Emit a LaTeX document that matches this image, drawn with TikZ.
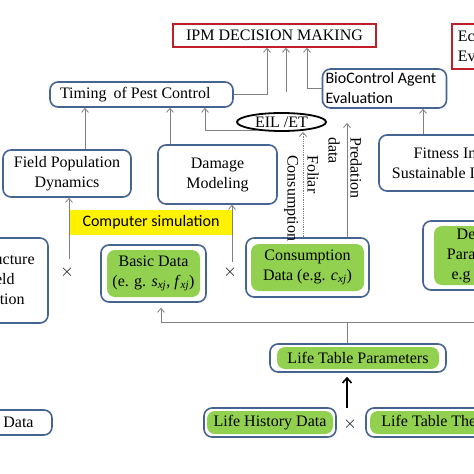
\documentclass[tikz,border=0pt]{standalone}
\usepackage{fontspec}
\setmainfont{Liberation Serif}
\newfontfamily\calibri{Carlito}
\usetikzlibrary{arrows.meta,shapes.geometric}
\definecolor{bordblue}{RGB}{70,100,145}
\definecolor{lgreen}{RGB}{146,208,80}
\definecolor{redb}{RGB}{192,30,40}
\definecolor{linegray}{RGB}{128,128,128}
\tikzset{
  txt/.style={font=\fontsize{16}{20}\selectfont},
  bluebox/.style={txt, draw=bordblue, line width=1.6pt, rounded corners=8pt, fill=white,
    inner sep=0pt, align=center},
  gbox/.style 2 args={bluebox, path picture={\fill[lgreen]
    ([xshift=#1pt,yshift=-#2pt]path picture bounding box.north west) rectangle
    ([xshift=-#1pt,yshift=#2pt]path picture bounding box.south east);}},
  redbox/.style={txt, draw=redb, line width=1.5pt, fill=white, inner sep=0pt},
  conn/.style={draw=linegray, line width=0.8pt},
  arr/.style={conn, -{Straight Barb[length=4pt,width=7pt]}},
  dotarr/.style={arr, densely dotted},
  barr/.style={draw=black, line width=1.6pt, -{Straight Barb[length=5pt,width=9pt]}},
  rlabel/.style={txt, rotate=-90, anchor=west, align=left, inner sep=0pt},
  timesx/.style={txt, inner sep=0pt},
}
\begin{document}
\begin{tikzpicture}[x=1pt,y=-1pt]
\useasboundingbox (0,0) rectangle (474,474);
\clip (0,0) rectangle (474,474);
\fill[white] (0,0) rectangle (474,474);

% top decision boxes
\node[redbox, minimum width=203pt, minimum height=23pt] (ipm) at (274.5,35.5) {IPM DECISION MAKING};
\node[redbox, anchor=north west, minimum height=45pt, text width=90pt, align=flush left, inner xsep=6pt] (eco) at (451,23) {Economic\\Evaluation};

% second row
\node[bluebox, minimum height=25pt, text width=163pt, align=flush left, inner xsep=10pt] (timing) at (141.5,94.5) {Timing\hspace{7pt}of Pest Control};
\node[bluebox, minimum height=39pt, text width=118pt, align=flush left, inner xsep=3pt, font=\calibri\fontsize{16}{20}\selectfont] (bio) at (384.5,88.5) {BioControl Agent\\Evaluation};
\node[txt, ellipse, draw=black, line width=1.8pt, minimum width=89pt, minimum height=18pt, inner sep=0pt] (eil) at (281.5,122) {EIL /ET};

% third row
\node[bluebox, minimum width=128pt, minimum height=47pt] (fpd) at (67,173.5) {Field Population\\Dynamics};
\node[bluebox, minimum width=119pt, minimum height=59pt] (dmg) at (217.5,174.5) {Damage\\Modeling};
\node[bluebox, minimum width=132pt, minimum height=56pt] (fit) at (445,163) {Fitness In\\Sustainable IPM};

% simulation band
\node[fill=yellow, minimum width=162pt, minimum height=25pt, inner sep=0pt, font=\calibri\fontsize{16}{20}\selectfont] (csim) at (151,222.5) {Computer simulation};

% fourth row
\node[bluebox, minimum width=116pt, minimum height=85pt] (age) at (-10,280.5) {Age Structure\\in Field\\Population};
\node[gbox={6}{5}, minimum width=105pt, minimum height=57pt] (basic) at (153.5,273.5) {Basic Data\\(e. g. \textit{s}\textsubscript{\textit{xj}}, \textit{f}\textsubscript{\textit{xj}})};
\node[gbox={5}{6}, minimum width=123pt, minimum height=59pt] (cons) at (307.5,267.5) {Consumption\\Data (e.g. \textit{c}\textsubscript{\textit{xj}})};
\node[gbox={11}{5}, minimum width=119pt, minimum height=69pt] (demo) at (482.5,255.5) {Derived\\Parameters\\e.g \textit{r}\textsubscript{\textit{m}}, \textit{R}\textsubscript{0}};

\node[timesx] (x1) at (67,272) {$\times$};
\node[timesx] (x2) at (230,272) {$\times$};

% life table
\node[gbox={7}{3}, minimum width=176pt, minimum height=28pt] (ltp) at (358,358) {Life Table Parameters};
\node[gbox={3}{3}, minimum width=132pt, minimum height=29pt] (lhd) at (270,422.5) {Life History Data};
\node[gbox={4}{3}, minimum width=147pt, minimum height=29pt] (ltt) at (439.5,422.5) {Life Table Theory};
\node[timesx] (x3) at (350,424) {$\times$};
\node[bluebox, minimum width=104pt, minimum height=25pt] (fdata) at (0,422.5) {Field Data};

% rotated labels
\node[rlabel] (fol) at (301.5,155) {Foliar\\Consumption};
\node[rlabel, font=\fontsize{16}{22}\selectfont] (pred) at (345,137) {Predation\\data};

% free coordinates
\coordinate (midfoot) at (286,92);
\coordinate (predtop) at (347,123);
\coordinate (fpdfoot) at (69,259);
\coordinate (dmgfoot) at (232,262);
\coordinate (bus) at (347,322);
\coordinate (busend) at (490,322);
\coordinate (lhdfoot) at (347,408);

% connectors to IPM
\draw[arr] (timing.east) -| (267,0 |- ipm.south);
\draw[arr] (midfoot) -- (midfoot |- ipm.south);
\draw[arr] (bio.west) -| (307,0 |- ipm.south);

% connectors to timing
\draw[arr] (85,0 |- fpd.north) -- (85,0 |- timing.south);
\draw[arr] (170,0 |- dmg.north) -- (170,0 |- timing.south);
\draw[arr] (eil.200) -| (205,0 |- timing.south);

% fitness to biocontrol
\draw[arr] (423,0 |- fit.north) -- (423,0 |- bio.south);

% data upwards
\draw[dotarr] (303,0 |- cons.north) -- (303,0 |- eil.south);
\draw[arr] (347,0 |- cons.north) -- (predtop);

% simulation links
\draw[arr] (fpdfoot) -- (fpdfoot |- fpd.south);
\draw[arr] (dmgfoot) -- (dmgfoot |- dmg.south);

% life table bus
\draw[conn] (ltp.north -| bus) -- (bus);
\draw[arr, shorten >=5pt] (busend) -- (161,0 |- bus) -- (161,0 |- basic.south);
\draw[barr, shorten >=4pt] (lhdfoot) -- (lhdfoot |- ltp.south);
\end{tikzpicture}
\end{document}
